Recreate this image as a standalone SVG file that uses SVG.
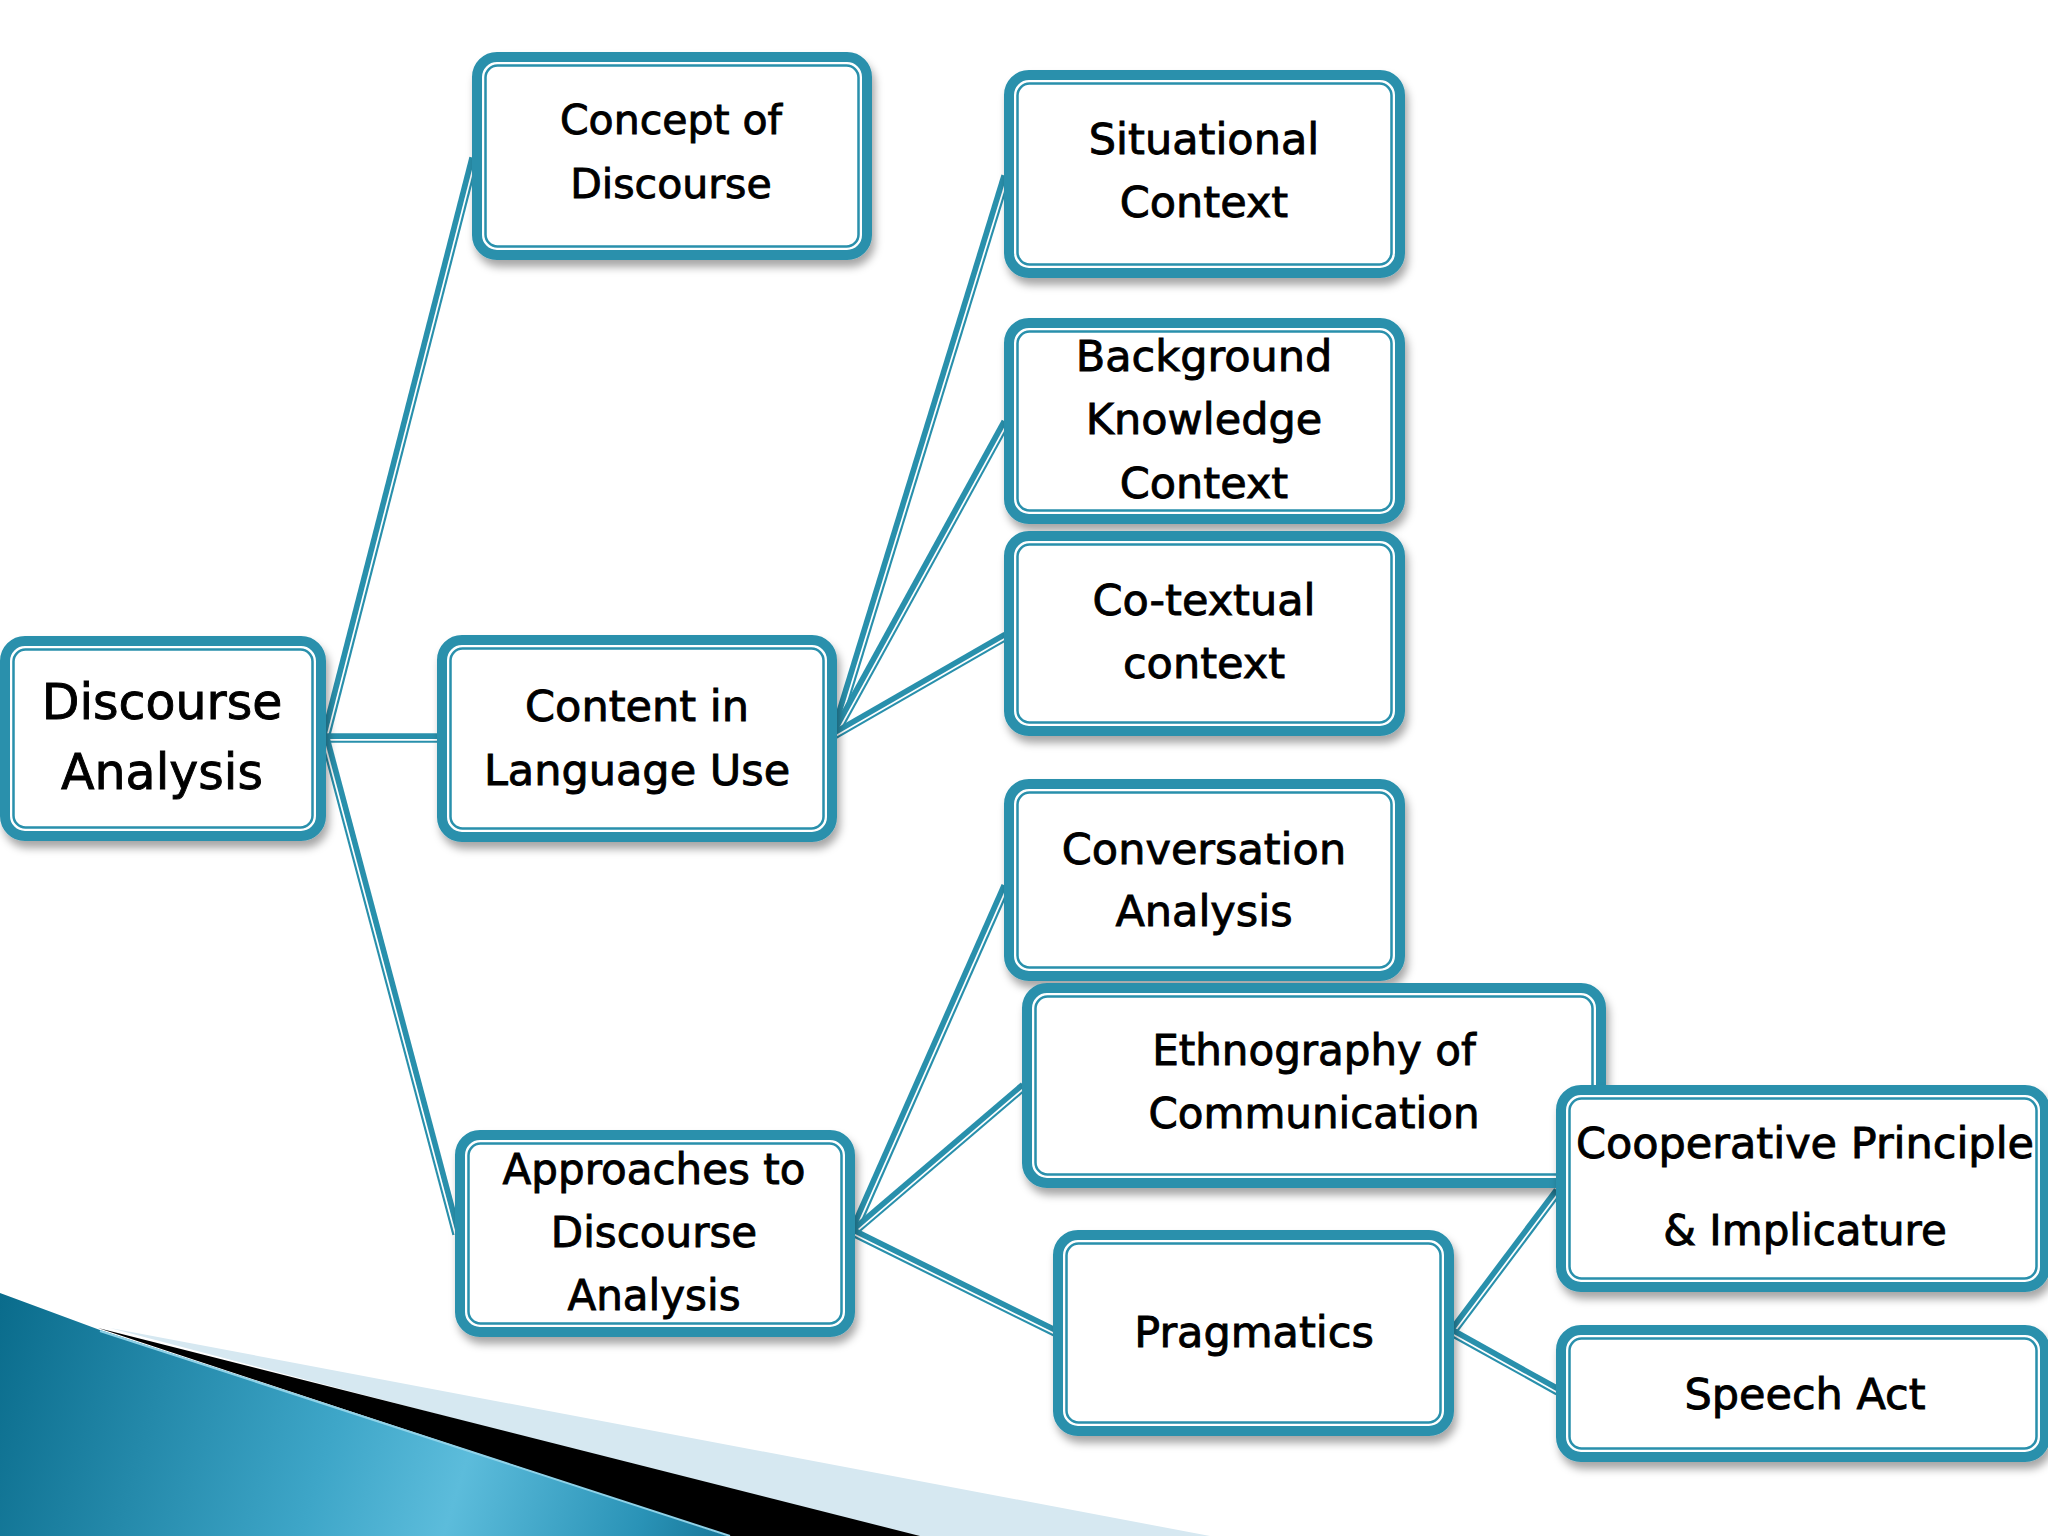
<svg xmlns="http://www.w3.org/2000/svg" width="2048" height="1536" viewBox="0 0 2048 1536">
<defs>
<filter id="sh" x="-10%" y="-10%" width="125%" height="130%">
<feDropShadow dx="3" dy="7" stdDeviation="4" flood-color="#000" flood-opacity="0.35"/>
</filter>
<linearGradient id="tg" x1="0" y1="1300" x2="760" y2="1536" gradientUnits="userSpaceOnUse">
<stop offset="0" stop-color="#0a6c8c"/>
<stop offset="0.45" stop-color="#3ea6c8"/>
<stop offset="0.62" stop-color="#5cbcdb"/>
<stop offset="0.85" stop-color="#2a93b7"/>
<stop offset="1" stop-color="#106d8e"/>
</linearGradient>
<style>
.bo{fill:#fff;stroke:#2990ac;stroke-width:10;filter:url(#sh)}
.bi{fill:none;stroke:#2990ac;stroke-width:2.5}
.t{font-family:"DejaVu Sans","Liberation Sans",sans-serif;fill:#000;stroke:#000;stroke-width:0.9;text-anchor:middle;font-size:43px}
.c{stroke:#2990ac;stroke-width:9.5;fill:none}
.cw{stroke:#fff;stroke-width:1.7;fill:none}
</style>
</defs>
<rect width="2048" height="1536" fill="#fff"/>
<g id="decoration">
<polygon points="110,1328 1210,1536 900,1536" fill="#d6e8f1"/>
<polygon points="0,1293 100,1330 730,1536 0,1536" fill="url(#tg)"/>
<polygon points="98,1328 920,1536 728,1536" fill="#000"/>
<line x1="100" y1="1331" x2="730" y2="1536" stroke="#8fd2e8" stroke-width="2"/>
</g>
<g id="connectors">
<line class="c" x1="325" y1="738" x2="474" y2="158"/>
<line class="cw" x1="326.7" y1="738.4" x2="475.7" y2="158.4"/>
<line class="c" x1="325" y1="738" x2="439" y2="738"/>
<line class="cw" x1="325" y1="739.8" x2="439" y2="739.8"/>
<line class="c" x1="325" y1="738" x2="457" y2="1234"/>
<line class="cw" x1="323.3" y1="738.5" x2="455.3" y2="1234.5"/>
<line class="c" x1="834" y1="735" x2="1006" y2="176"/>
<line class="cw" x1="835.7" y1="735.5" x2="1007.7" y2="176.5"/>
<line class="c" x1="834" y1="735" x2="1006" y2="422"/>
<line class="cw" x1="835.6" y1="735.9" x2="1007.6" y2="422.9"/>
<line class="c" x1="834" y1="735" x2="1006" y2="636"/>
<line class="cw" x1="834.9" y1="736.6" x2="1006.9" y2="637.6"/>
<line class="c" x1="853" y1="1232" x2="1006" y2="886"/>
<line class="cw" x1="854.6" y1="1232.7" x2="1007.6" y2="886.7"/>
<line class="c" x1="853" y1="1232" x2="1024" y2="1086"/>
<line class="cw" x1="854.2" y1="1233.3" x2="1025.2" y2="1087.3"/>
<line class="c" x1="853" y1="1232" x2="1055" y2="1332"/>
<line class="cw" x1="852.2" y1="1233.6" x2="1054.2" y2="1333.6"/>
<line class="c" x1="1452" y1="1332" x2="1558" y2="1191"/>
<line class="cw" x1="1453.4" y1="1333.1" x2="1559.4" y2="1192.1"/>
<line class="c" x1="1452" y1="1332" x2="1558" y2="1391"/>
<line class="cw" x1="1451.1" y1="1333.5" x2="1557.1" y2="1392.5"/>
</g>
<g id="n-discourse-analysis">
<rect class="bo" x="5" y="641" width="316" height="195" rx="20"/>
<rect class="bi" x="13.5" y="649.5" width="299" height="178" rx="12"/>
<text class="t" x="162" y="719" style="font-size:49px">Discourse</text>
<text class="t" x="162" y="789" style="font-size:49px">Analysis</text>
</g>
<g id="n-concept">
<rect class="bo" x="477" y="57" width="390" height="198" rx="20"/>
<rect class="bi" x="485.5" y="65.5" width="373" height="181" rx="12"/>
<text class="t" x="671" y="134" style="font-size:41px">Concept of</text>
<text class="t" x="671" y="198" style="font-size:41px">Discourse</text>
</g>
<g id="n-content">
<rect class="bo" x="442" y="640" width="390" height="197" rx="20"/>
<rect class="bi" x="450.5" y="648.5" width="373" height="180" rx="12"/>
<text class="t" x="637" y="721">Content in</text>
<text class="t" x="637" y="785">Language Use</text>
</g>
<g id="n-situational">
<rect class="bo" x="1009" y="75" width="391" height="198" rx="20"/>
<rect class="bi" x="1017.5" y="83.5" width="374" height="181" rx="12"/>
<text class="t" x="1204" y="154">Situational</text>
<text class="t" x="1204" y="217">Context</text>
</g>
<g id="n-background">
<rect class="bo" x="1009" y="323" width="391" height="196" rx="20"/>
<rect class="bi" x="1017.5" y="331.5" width="374" height="179" rx="12"/>
<text class="t" x="1204" y="371">Background</text>
<text class="t" x="1204" y="434">Knowledge</text>
<text class="t" x="1204" y="498">Context</text>
</g>
<g id="n-cotextual">
<rect class="bo" x="1009" y="536" width="391" height="195" rx="20"/>
<rect class="bi" x="1017.5" y="544.5" width="374" height="178" rx="12"/>
<text class="t" x="1204" y="615">Co-textual</text>
<text class="t" x="1204" y="678">context</text>
</g>
<g id="n-conversation">
<rect class="bo" x="1009" y="784" width="391" height="192" rx="20"/>
<rect class="bi" x="1017.5" y="792.5" width="374" height="175" rx="12"/>
<text class="t" x="1204" y="864">Conversation</text>
<text class="t" x="1204" y="926">Analysis</text>
</g>
<g id="n-ethnography">
<rect class="bo" x="1027" y="988" width="574" height="195" rx="20"/>
<rect class="bi" x="1035.5" y="996.5" width="557" height="178" rx="12"/>
<text class="t" x="1314" y="1065" style="font-size:42px">Ethnography of</text>
<text class="t" x="1314" y="1128" style="font-size:42px">Communication</text>
</g>
<g id="n-cooperative">
<rect class="bo" x="1561" y="1090" width="484" height="197" rx="20"/>
<rect class="bi" x="1569.5" y="1098.5" width="467" height="180" rx="12"/>
<text class="t" x="1805" y="1158">Cooperative Principle</text>
<text class="t" x="1805" y="1245" style="font-size:42px">&amp; Implicature</text>
</g>
<g id="n-approaches">
<rect class="bo" x="460" y="1135" width="390" height="197" rx="20"/>
<rect class="bi" x="468.5" y="1143.5" width="373" height="180" rx="12"/>
<text class="t" x="654" y="1184" style="font-size:42px">Approaches to</text>
<text class="t" x="654" y="1247" style="font-size:42px">Discourse</text>
<text class="t" x="654" y="1310" style="font-size:42px">Analysis</text>
</g>
<g id="n-pragmatics">
<rect class="bo" x="1058" y="1235" width="391" height="196" rx="20"/>
<rect class="bi" x="1066.5" y="1243.5" width="374" height="179" rx="12"/>
<text class="t" x="1254" y="1347">Pragmatics</text>
</g>
<g id="n-speech-act">
<rect class="bo" x="1561" y="1330" width="484" height="127" rx="20"/>
<rect class="bi" x="1569.5" y="1338.5" width="467" height="110" rx="12"/>
<text class="t" x="1805" y="1409">Speech Act</text>
</g>
</svg>
